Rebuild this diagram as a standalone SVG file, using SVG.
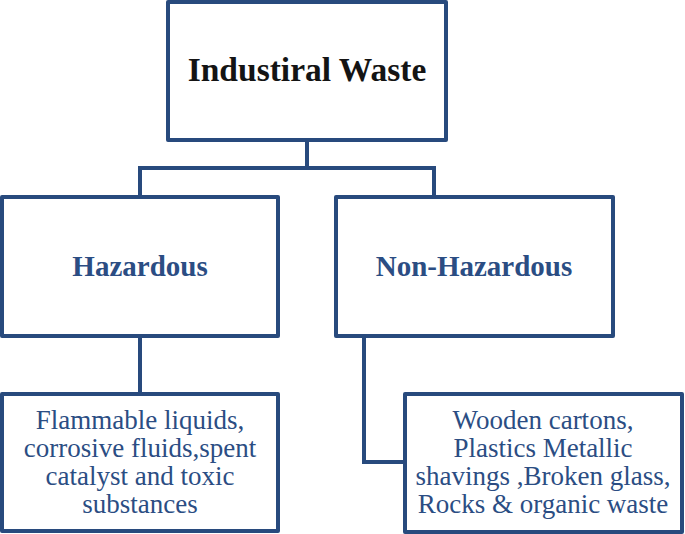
<svg xmlns="http://www.w3.org/2000/svg" width="685" height="534" viewBox="0 0 685 534">
<style>
.box{fill:#ffffff;stroke:#284a7d;stroke-width:4;stroke-linejoin:round}
.conn{fill:none;stroke:#284a7d;stroke-width:4}
.t{font-family:"Liberation Serif","Times New Roman",serif;text-anchor:middle}
.title{font-size:33.5px;font-weight:bold;fill:#141414}
.head{font-size:29px;font-weight:bold;fill:#2b4d83}
.body{font-size:27px;fill:#2b4d83}
</style>
<rect width="685" height="534" fill="#ffffff"/>
<g id="connectors">
<path class="conn" d="M307 140 V168 M138 168 H436 M140 168 V197 M434 168 V197"/>
<path class="conn" d="M140 336 V394"/>
<path class="conn" d="M364 336 V462 H405"/>
</g>
<g id="industrial-waste">
<rect class="box" x="168" y="2" width="278" height="138"/>
<text class="t title" x="307" y="81">Industiral Waste</text>
</g>
<g id="hazardous">
<rect class="box" x="2" y="197" width="276" height="139"/>
<text class="t head" x="140" y="276">Hazardous</text>
</g>
<g id="non-hazardous">
<rect class="box" x="336" y="197" width="277" height="139"/>
<text class="t head" x="474" y="276">Non-Hazardous</text>
</g>
<g id="hazardous-examples">
<rect class="box" x="2" y="394" width="276" height="137"/>
<text class="t body"><tspan x="140" y="429">Flammable liquids,</tspan><tspan x="140" y="457">corrosive fluids,spent</tspan><tspan x="140" y="485">catalyst and toxic</tspan><tspan x="140" y="513">substances</tspan></text>
</g>
<g id="non-hazardous-examples">
<rect class="box" x="405" y="394" width="277" height="138"/>
<text class="t body"><tspan x="543" y="429">Wooden cartons,</tspan><tspan x="543" y="457">Plastics Metallic</tspan><tspan x="543" y="485">shavings ,Broken glass,</tspan><tspan x="543" y="513">Rocks &amp; organic waste</tspan></text>
</g>
</svg>
